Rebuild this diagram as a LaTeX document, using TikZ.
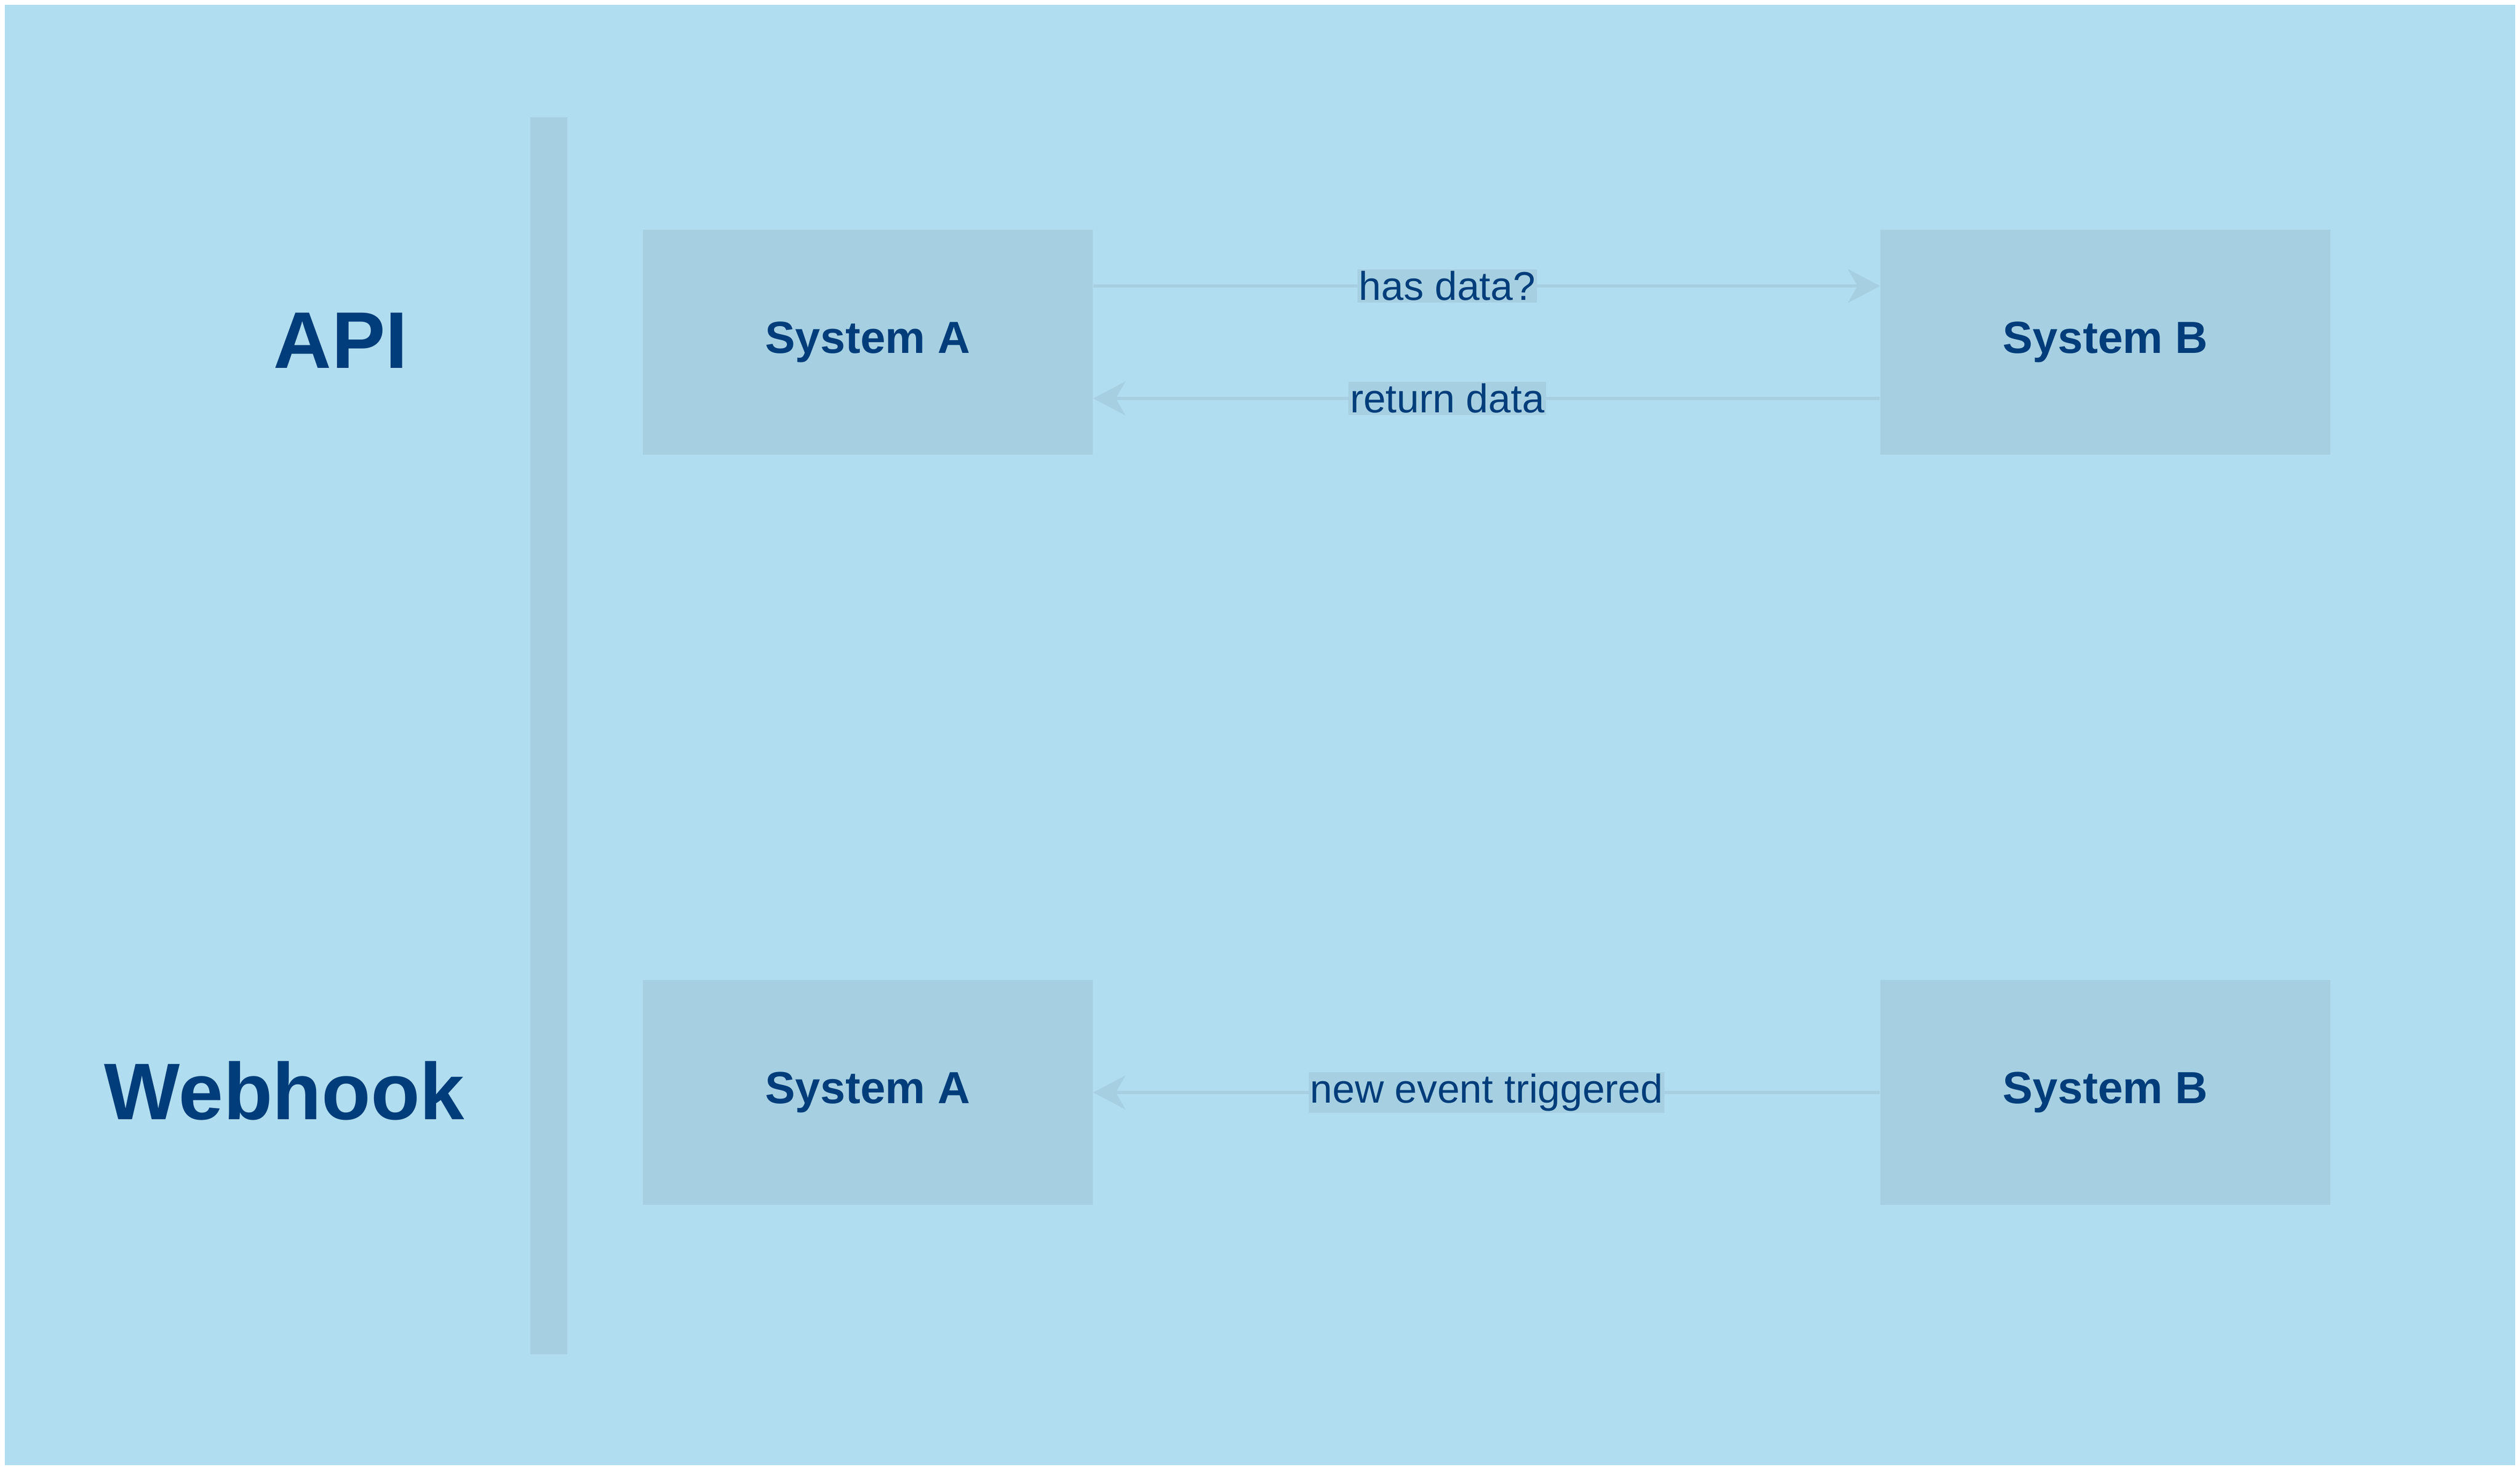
\documentclass[tikz,border=0pt]{standalone}
\usepackage{fontspec}
\setmainfont{Liberation Sans}
\usetikzlibrary{positioning, arrows.meta}
\definecolor{bgblue}{HTML}{B0DDEF}
\definecolor{boxblue}{HTML}{A6D0E2}
\definecolor{txtblue}{HTML}{003D7A}
\tikzset{
    sysbox/.style={fill=boxblue, minimum width=280pt, minimum height=140pt, inner sep=0pt, text=txtblue, font=\fontsize{28}{32}\selectfont\bfseries},
    kind/.style={text=txtblue, font=\fontsize{50}{56}\selectfont\bfseries},
    msg/.style={fill=boxblue, text=txtblue, inner sep=1pt, font=\fontsize{25}{28}\selectfont},
    flow/.style={draw=boxblue, line width=2pt, -{Stealth[length=20pt,width=21pt,inset=6pt]}}
}
\begin{document}
\begin{tikzpicture}[x=1pt,y=-1pt]
            \useasboundingbox (0,0) rectangle (1568,915);
            \fill[bgblue] (3,3) rectangle (1565,912);
            \fill[boxblue] (330,73) rectangle (353,843);
            % API
            \node[kind] (api) at (212,212) {API};
            \node[sysbox] (apiA) at (540,213) {System A};
            \node[sysbox] (apiB) at (1310,213) {System B};
            \draw[flow] ([yshift=35pt]apiA.east) -- ([yshift=35pt]apiB.west)
                node[msg, pos=0.45] (ask) {has data?};
            \draw[flow] ([yshift=-35pt]apiB.west) -- ([yshift=-35pt]apiA.east)
                node[msg, pos=0.55] (ret) {return data};
            % Webhook
            \node[kind] (hook) at (177,679) {Webhook};
            \node[sysbox] (hookA) at (540,680) {System A};
            \node[sysbox] (hookB) at (1310,680) {System B};
            \draw[flow] (hookB) -- (hookA)
                node[msg, pos=0.5] (evt) {new event triggered};
\end{tikzpicture}
\end{document}
